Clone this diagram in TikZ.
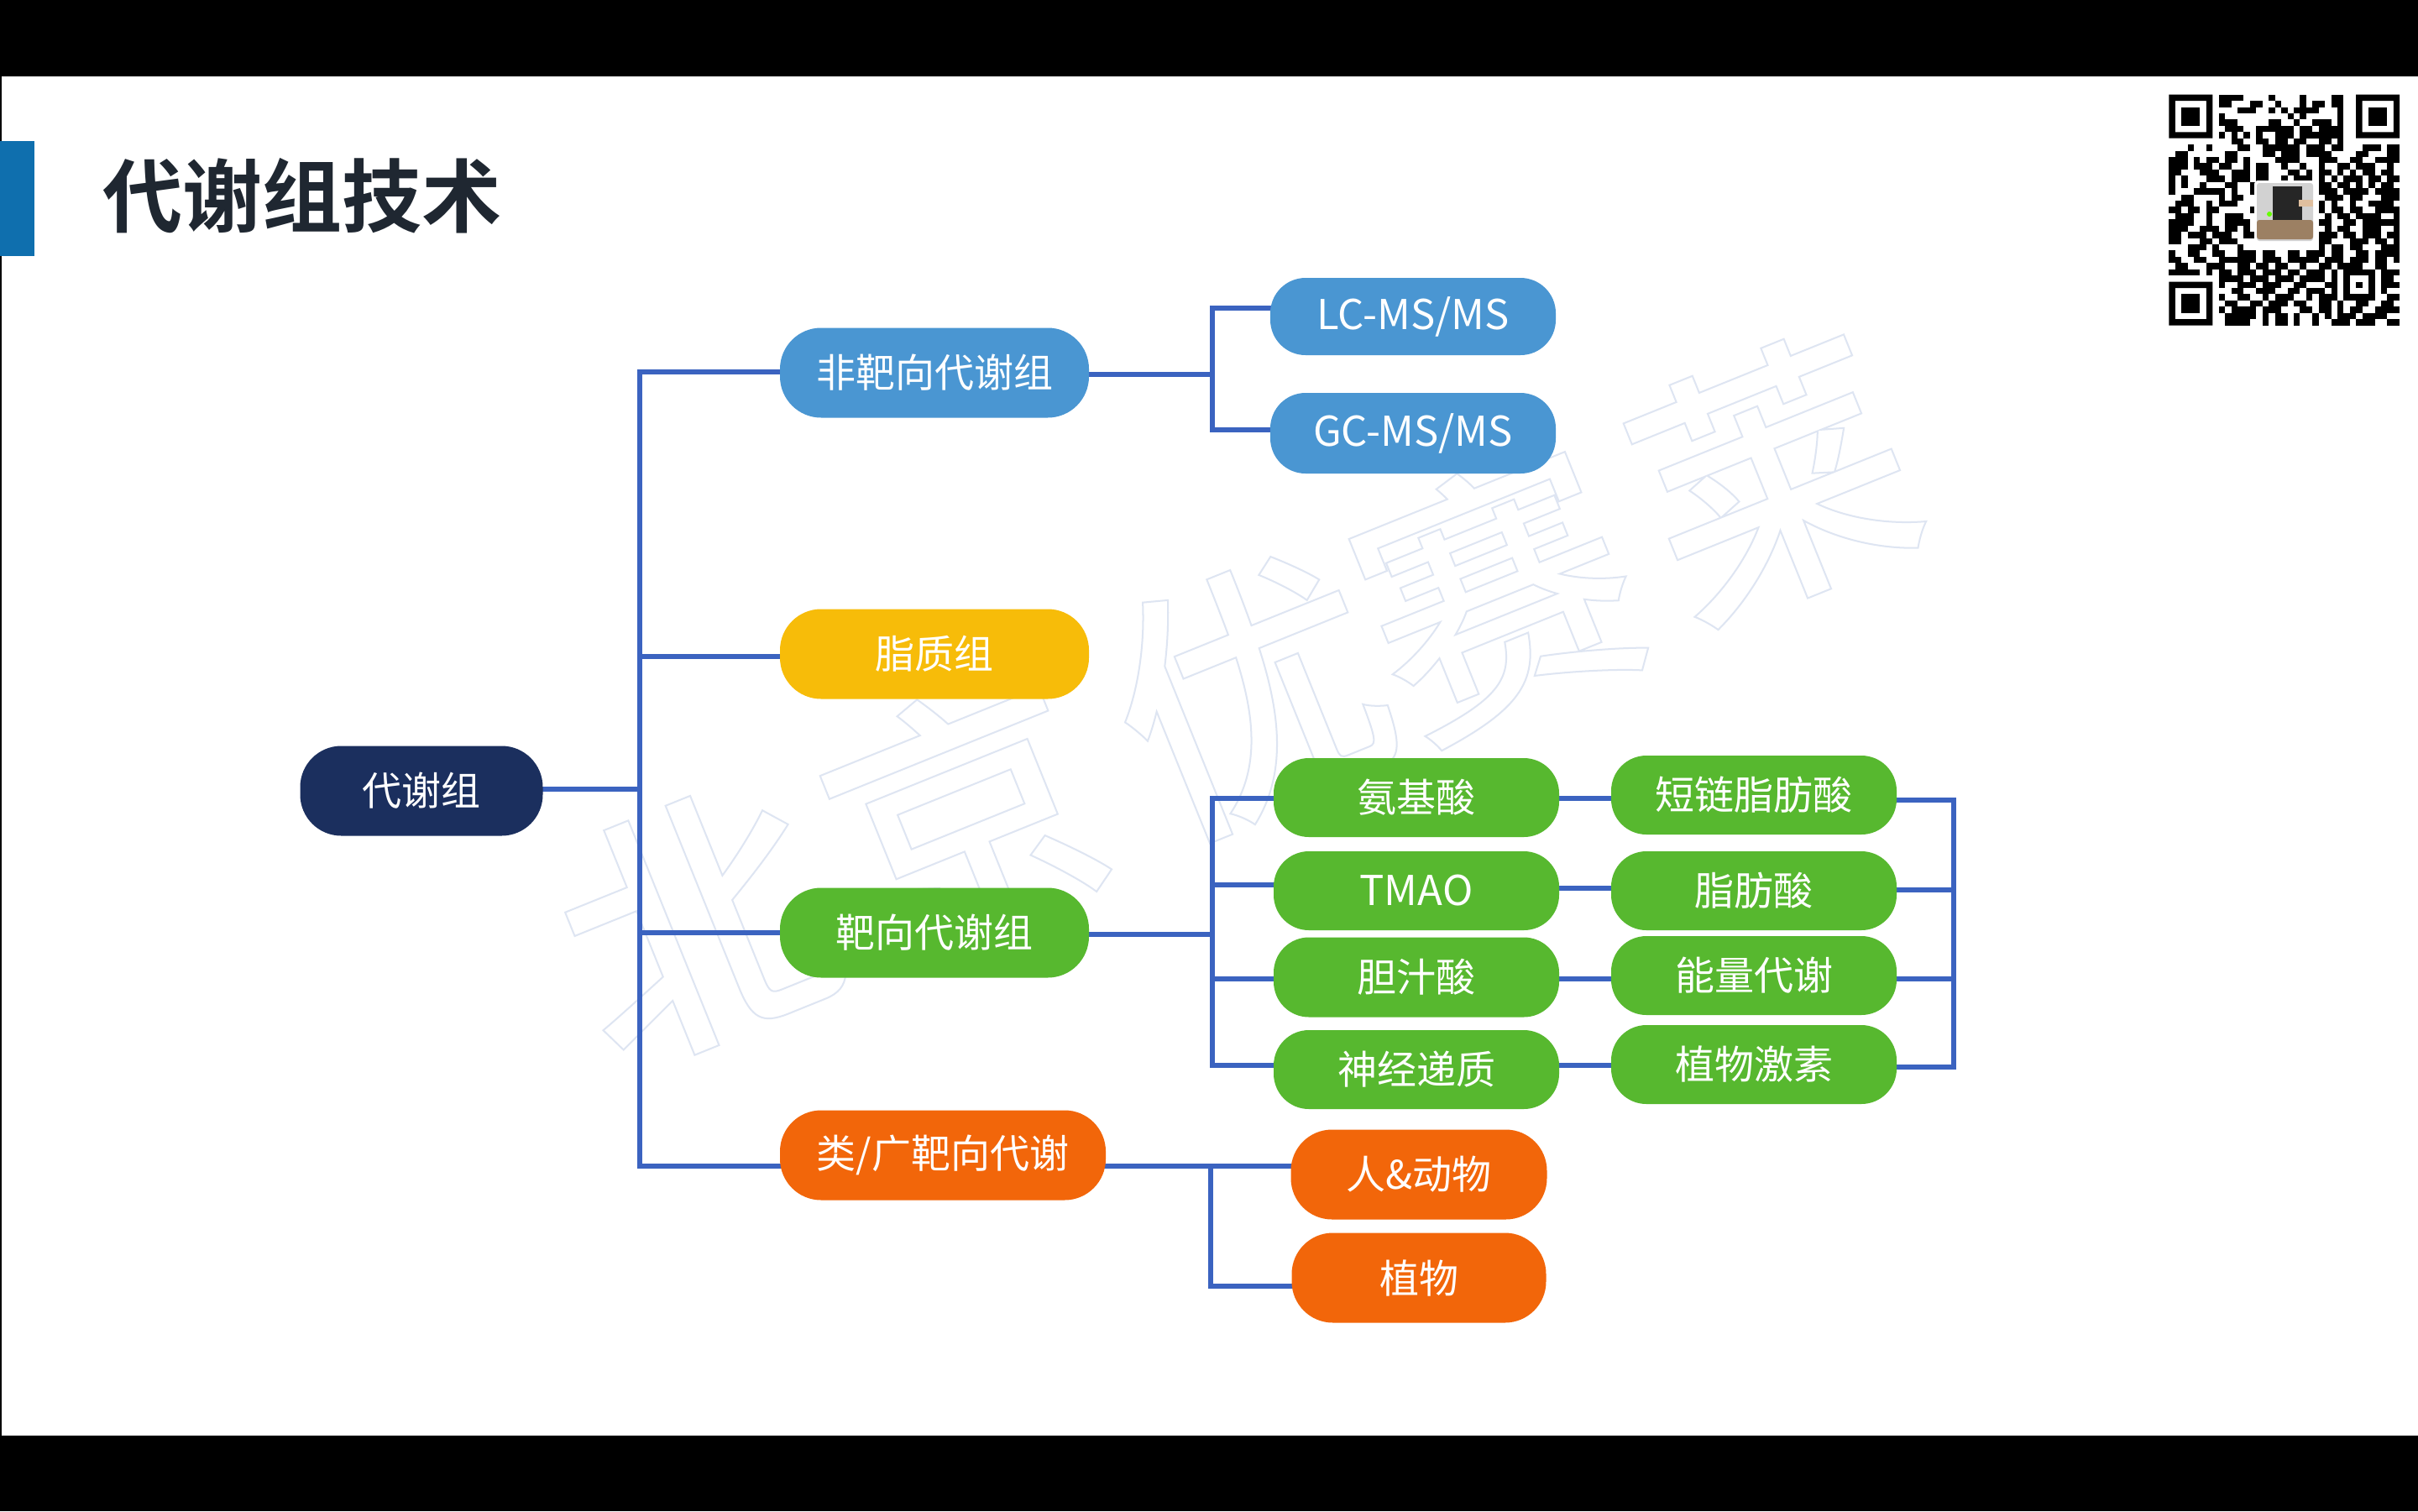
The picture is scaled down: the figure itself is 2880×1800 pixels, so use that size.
\documentclass[tikz,border=0pt]{standalone}
\usepackage{fontspec}
\setmainfont{Noto Sans CJK SC}
\newfontfamily\cjkbold{Noto Sans CJK SC Bold}
\newfontfamily\cjkmed{Noto Sans CJK SC Medium}
\usetikzlibrary{backgrounds}
\definecolor{navy}{HTML}{1B2F5E}
\definecolor{skyb}{HTML}{4A96D2}
\definecolor{yell}{HTML}{F7BC09}
\definecolor{gree}{HTML}{57B82F}
\definecolor{oran}{HTML}{F2660A}
\definecolor{linkb}{HTML}{3B63C0}
\definecolor{tabb}{HTML}{0F6FAE}
\definecolor{titlec}{HTML}{1F2731}
\tikzset{
  pill/.style={draw=none,rectangle,inner sep=0pt,text=white,font=\fontsize{47}{52}\selectfont,
    minimum width=340pt,minimum height=94pt,rounded corners=42pt,align=center},
  big/.style={pill,minimum width=368pt,minimum height=107pt,rounded corners=49pt},
  link/.style={draw=linkb,line width=6.5pt,line cap=rect},
  wm/.style={inner sep=0pt,rotate=22,font=\cjkmed\fontsize{320}{330}\selectfont}
}
\newcommand{\outlined}[1]{\special{pdf:code 1 Tr 2 w 0.87 0.90 0.95 RG}#1\special{pdf:code 0 Tr 1 w}}
\begin{document}
\begin{tikzpicture}[x=1pt,y=-1pt]
\useasboundingbox (0,0) rectangle (2880,1800);
\begin{scope}[on background layer]
\fill[white] (0,0) rectangle (2880,1800);
\fill[black] (0,0) rectangle (2880,91);
\fill[black] (0,1710) rectangle (2880,1800);
\fill[black] (0,91) rectangle (2,1710);
\fill[tabb] (0,168) rectangle (41,305);
% watermark
\node[wm] (w1) at (830,1100) {\outlined{北}};
\node[wm] (w2) at (1148,973) {\outlined{京}};
\node[wm] (w3) at (1488,826) {\outlined{优}};
\node[wm] (w4) at (1782,707) {\outlined{赛}};
\node[wm] (w5) at (2112,569) {\outlined{莱}};
\end{scope}
\node[inner sep=0pt,text=titlec,font=\cjkbold\fontsize{95}{100}\selectfont] (title) at (360,233) {代谢组技术};
% QR
\begin{scope}[shift={(2583.3,112.7)},x=7.43pt,y=-7.43pt]
\foreach \ox/\oy in {0/0,30/0,0/30}{
  \fill[black,even odd rule] (\ox,\oy) rectangle ++(7,7) (\ox+1,\oy+1) rectangle ++(5,5);
  \fill[black] (\ox+2,\oy+2) rectangle ++(3,3);
}
\foreach \r/\l in {
0/{8/11,16/16,21/21,26/27},
1/{8/9,13/14,17/17,21/21,23/24,26/27},
2/{11/13,16/16,18/18,20/23,27/27},
3/{8/8,19/19,21/21,27/27},
4/{8/10,16/17,20/20,23/25,27/27},
5/{9/11,14/19,21/22,24/27},
6/{8/8,10/10,12/12,14/14,17/19,21/27},
7/{10/11,14/15,17/18,20/21,24/25,27/27},
8/{3/3,6/6,11/12,15/20,22/24,26/27,31/33,35/36},
9/{1/2,9/10,15/16,18/20,22/25,30/31,35/36},
10/{0/2,4/4,6/7,9/10,12/12,17/20,24/26,29/30,33/36},
11/{0/2,4/6,8/9,12/12,14/15,18/18,21/21,24/24,27/28,30/32,35/35},
12/{0/1,5/7,10/12,14/15,19/20,22/22,24/25,27/27,29/29,31/32,34/35},
13/{0/0,2/2,6/8,10/12,14/15,18/18,20/22,24/24,26/26,28/30,32/33,35/36},
14/{0/0,2/2,5/5,9/10,13/13,24/25,27/28,30/30,32/32,34/35},
15/{0/0,4/8,10/10,13/13,24/26,28/31,33/36},
16/{2/3,8/8,10/11,25/27,29/30,34/36},
17/{1/3,6/6,8/10,24/24,26/26,29/29,32/35},
18/{0/1,3/4,6/7,13/13,24/24,26/27,29/30,33/36},
19/{1/3,6/6,9/11,25/25,27/28,30/33,36/36},
20/{0/3,6/6,9/12,24/25,28/29,31/36},
21/{0/2,5/7,9/10,12/12,25/25,27/28,31/33,36/36},
22/{0/1,3/5,7/9,12/13,24/26,28/29,31/33,35/36},
23/{0/1,5/6,8/10,24/25,29/31,33/34,36/36},
24/{3/5,7/7,11/11,24/24,26/27,29/30,34/36},
25/{0/0,3/4,7/8,11/13,15/16,19/20,22/24,26/27,30/31,33/36},
26/{0/1,4/5,8/13,15/17,19/23,25/27,29/31,33/34,36/36},
27/{1/2,6/8,11/12,14/15,17/18,21/21,24/25,27/30,33/34},
28/{0/4,6/6,8/9,11/13,15/17,19/20,22/24,26/26,28/32,34/36},
29/{8/11,13/15,17/19,21/24,26/26,28/28,32/32,34/35},
30/{8/8,11/13,15/17,20/21,25/26,28/28,30/30,32/32,34/36},
31/{10/11,14/16,19/20,22/24,26/26,28/28,32/32,34/34},
32/{8/8,11/12,15/15,17/19,22/22,24/26,28/32,35/36},
33/{9/10,13/14,16/18,20/21,24/25,27/27,30/31,34/35},
34/{8/8,10/13,15/17,21/22,24/25,27/27,29/30,33/36},
35/{9/13,15/15,17/18,20/20,23/23,25/25,27/29,31/34},
36/{9/12,15/15,17/18,20/20,23/23,26/28,30/32,35/36}}{
  \foreach \a/\b in \l { \fill[black] (\a,\r) rectangle (\b+1,\r+1); }
}
\end{scope}
% QR logo
\fill[white,rounded corners=4pt] (2685,215) rectangle (2758,290);
\fill[gray!35,rounded corners=3pt] (2688,218) rectangle (2755,287);
\fill[black!85] (2707,222) rectangle (2742,262);
\fill[brown!45!gray,rounded corners=3pt] (2688,262) rectangle (2755,285);
\fill[brown!50!white] (2738,238) rectangle (2755,246);
\fill[green!60!yellow] (2703,255) circle (3pt);
% nodes
\node[pill,big,fill=navy,minimum width=289pt] (root) at (502,942) {代谢组};
\node[pill,big,fill=skyb] (A) at (1113,444) {非靶向代谢组};
\node[pill,big,fill=yell] (B) at (1113,779) {脂质组};
\node[pill,big,fill=gree] (C) at (1113,1111) {靶向代谢组};
\node[pill,big,fill=oran,minimum width=388pt] (E) at (1123,1376) {类/广靶向代谢};
\node[pill,fill=skyb,minimum height=92pt,font=\fontsize{49}{54}\selectfont] (A1) at (1683,377) {LC-MS/MS};
\node[pill,fill=skyb,minimum height=96pt,font=\fontsize{49}{54}\selectfont] (A2) at (1683,516) {GC-MS/MS};
\node[pill,fill=gree] (C1) at (1687,950) {氨基酸};
\node[pill,fill=gree,font=\fontsize{49}{54}\selectfont] (C2) at (1687,1061) {TMAO};
\node[pill,fill=gree,minimum height=95pt] (C3) at (1687,1164) {胆汁酸};
\node[pill,fill=gree] (C4) at (1687,1274) {神经递质};
\node[pill,fill=gree] (D1) at (2089,947) {短链脂肪酸};
\node[pill,fill=gree] (D2) at (2089,1061) {脂肪酸};
\node[pill,fill=gree] (D3) at (2089,1162) {能量代谢};
\node[pill,fill=gree] (D4) at (2089,1268) {植物激素};
\node[pill,big,fill=oran,minimum width=305pt] (E1) at (1690,1399) {人\&动物};
\node[pill,big,fill=oran,minimum width=303pt] (E2) at (1690,1522) {植物};
% junction coordinates
\coordinate (s1top) at (762,443);
\coordinate (s1b) at (762,782);
\coordinate (s1c) at (762,1111);
\coordinate (s1bot) at (762,1389);
\coordinate (s1r) at (762,940);
\coordinate (s2m) at (1444,446);
\coordinate (s2t) at (1444,367);
\coordinate (s2b) at (1444,512);
\coordinate (s3m) at (1444,1113);
\coordinate (s31) at (1444,951);
\coordinate (s32) at (1444,1054);
\coordinate (s33) at (1444,1166);
\coordinate (s34) at (1444,1269);
\coordinate (s4t) at (1442,1389);
\coordinate (s4b) at (1442,1532);
\coordinate (cd2) at (1700,1058);
\coordinate (r1) at (2327,953);
\coordinate (r2) at (2327,1060);
\coordinate (r3) at (2327,1166);
\coordinate (r4) at (2327,1271);
\begin{scope}[on background layer]
\draw[link] (s1top) -- (s1bot);
\draw[link] (s1top) -- (s1top -| A.west);
\draw[link] (s1b) -- (s1b -| B.west);
\draw[link] (s1c) -- (s1c -| C.west);
\draw[link] (s1bot) -- (s1bot -| E.west);
\draw[link] (s1r) -- (s1r -| root.east);
\draw[link] (s2t) -- (s2b);
\draw[link] (s2m) -- (s2m -| A.east);
\draw[link] (s2t) -- (s2t -| A1.west);
\draw[link] (s2b) -- (s2b -| A2.west);
\draw[link] (s31) -- (s34);
\draw[link] (s3m) -- (s3m -| C.east);
\draw[link] (s31) -- (s31 -| C1.west);
\draw[link] (s32) -- (s32 -| C2.west);
\draw[link] (s33) -- (s33 -| C3.west);
\draw[link] (s34) -- (s34 -| C4.west);
\draw[link] (s31 -| C1.east) -- (s31 -| D1.west);
\draw[link] (cd2 -| C2.east) -- (cd2 -| D2.west);
\draw[link] (s33 -| C3.east) -- (s33 -| D3.west);
\draw[link] (s34 -| C4.east) -- (s34 -| D4.west);
\draw[link] (r1) -- (r4);
\draw[link] (r1) -- (r1 -| D1.east);
\draw[link] (r2) -- (r2 -| D2.east);
\draw[link] (r3) -- (r3 -| D3.east);
\draw[link] (r4) -- (r4 -| D4.east);
\draw[link] (s4t) -- (s4b);
\draw[link] (s4t -| E.east) -- (s4t -| E1.west);
\draw[link] (s4b) -- (s4b -| E2.west);
\end{scope}
\end{tikzpicture}
\end{document}
